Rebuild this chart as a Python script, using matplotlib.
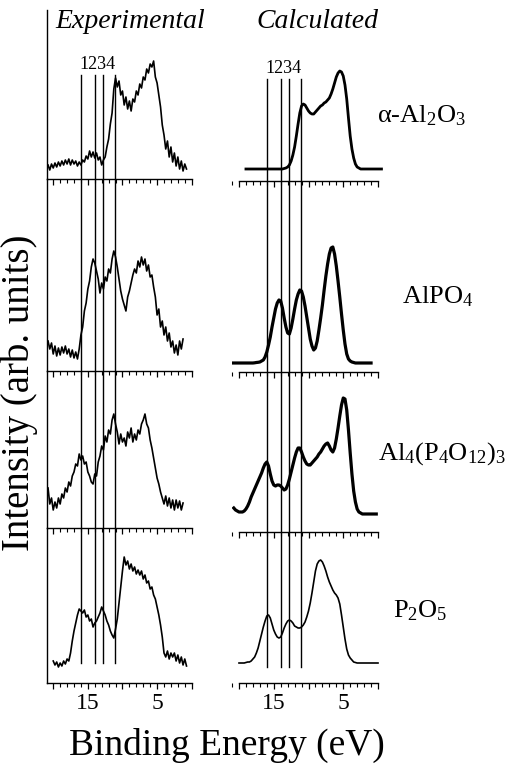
import numpy as np
import matplotlib
matplotlib.use('Agg')
import matplotlib.pyplot as plt
from matplotlib.ticker import MultipleLocator, FixedLocator, FixedFormatter

## plt config
plt.rcParams['font.family'] = ['Liberation Serif', 'DejaVu Serif']
plt.rcParams['mathtext.fontset'] = 'custom'
plt.rcParams['mathtext.rm'] = 'Liberation Serif'
plt.rcParams['mathtext.it'] = 'Liberation Serif:italic'

## data (binding energy in eV, intensity in arb. units)
compounds = ['α-Al$_2$O$_3$', 'AlPO$_4$', 'Al$_4$(P$_4$O$_{12}$)$_3$', 'P$_2$O$_5$']
peak_lines = [16.0, 14.0, 12.8, 11.1]
peak_names = '1234'

e_exp = np.linspace(20.75, 0.75, 81)
exp_al2o3 = [14, 9, 15, 11, 16, 12, 17, 13, 18, 14, 19, 15, 20, 14, 19, 15, 18, 13, 17, 14,
             19, 17, 23, 20, 28, 22, 27, 21, 26, 19, 22, 14, 19, 22, 32, 40, 55, 66, 90, 101,
             92, 98, 84, 88, 74, 82, 70, 78, 68, 80, 77, 88, 84, 95, 91, 102, 99, 110, 106, 115,
             112, 118, 102, 96, 84, 72, 54, 44, 30, 38, 22, 32, 17, 26, 13, 22, 10, 18, 8, 15, 10]
exp_alpo4 = [30, 22, 28, 17, 25, 15, 23, 16, 24, 18, 25, 17, 22, 14, 21, 13, 19, 12, 22, 36,
             44, 60, 68, 82, 90, 104, 112, 108, 100, 92, 78, 88, 82, 94, 90, 102, 98, 112, 120, 114,
             104, 92, 80, 72, 66, 60, 74, 80, 88, 96, 102, 98, 110, 104, 114, 106, 112, 100, 106, 94,
             96, 84, 74, 56, 62, 44, 50, 36, 44, 30, 38, 24, 30, 18, 26, 16, 30, 22, 32, np.nan, np.nan]
exp_alp4o12 = [40, 24, 30, 18, 26, 20, 30, 24, 34, 30, 40, 36, 46, 42, 52, 56, 64, 62, 74, 68,
               72, 64, 66, 56, 52, 46, 44, 54, 52, 66, 72, 82, 78, 92, 86, 98, 94, 108, 114, 104,
               96, 84, 94, 86, 90, 82, 96, 90, 100, 86, 94, 88, 98, 94, 104, 108, 114, 104, 100, 88,
               80, 70, 60, 50, 44, 36, 30, 24, 32, 22, 30, 20, 28, 18, 28, 20, 27, 18, 25, np.nan, np.nan]
exp_p2o5 = [np.nan, np.nan, np.nan, 22, 18, 21, 16, 20, 17, 22, 19, 24, 22, 30, 42, 52, 60, 68, 74, 72,
            70, 73, 66, 68, 62, 64, 56, 60, 62, 66, 70, 76, 72, 68, 62, 58, 52, 48, 45, 54,
            64, 80, 96, 112, 126, 118, 122, 114, 119, 112, 116, 109, 113, 108, 112, 104, 108, 100, 102, 94,
            96, 88, 84, 76, 68, 58, 46, 30, 26, 32, 24, 30, 26, 30, 22, 28, 20, 26, 18, 24, 17]

e_calc = np.linspace(21.0, -0.5, 87)
calc_al2o3 = [np.nan, np.nan, np.nan, np.nan, np.nan, np.nan, np.nan, np.nan, 12, 12,
              12, 12, 12, 12, 12, 12, 12, 12, 12, 12,
              12, 12, 12, 12, 12, 12, 12, 12, 12, 12,
              12.5, 13, 14, 16, 20, 26, 34, 45, 57, 68,
              75, 77, 76, 73, 70, 68, 67, 67, 69, 71,
              73, 75, 76, 78, 79, 81, 83, 87, 92, 98,
              104, 108, 110, 109, 105, 96, 82, 63, 45, 32,
              23, 17, 14, 13, 12, 12, 12, 12, 12, 12,
              12, 12, 12, 12, 12, 12, 12]
calc_alpo4 = [9, 9, 9, 9, 9, 9, 9, 9, 9, 9,
              9, 9, 9, 9.2, 9.5, 9.7, 10,
              11, 12, 15, 20, 27, 35, 45, 54, 63, 69,
              72, 71, 64, 54, 45, 39, 38, 44, 53, 63,
              72, 78, 82, 81, 75, 66, 55, 44, 33, 26,
              22, 24, 31, 42, 54, 67, 82, 96, 108, 118,
              124, 125, 118, 106, 91, 75, 58, 42, 28, 18,
              13, 11, 10, 9.5, 9, 9, 9, 9, 9, 9,
              9, 9, 9, 9, np.nan, np.nan, np.nan, np.nan, np.nan, np.nan]
calc_alp4o12 = [np.nan, 24, 22, 21, 20, 20, 20, 21, 23, 26,
                30, 35, 39, 43, 47, 51, 55, 59, 64, 68,
                70, 66, 58, 51, 47, 46, 47, 47, 46, 44,
                42, 43, 47, 53, 60, 67, 74, 80, 84, 84,
                80, 75, 71, 68, 67, 67, 69, 71, 73, 75,
                78, 80, 83, 86, 88, 89, 86, 82, 80, 84,
                93, 104, 116, 127, 134, 133, 122, 102, 79, 58,
                41, 30, 23, 20, 19, 18, 18, 18, 18, 18,
                18, 18, 18, 18, np.nan, np.nan, np.nan]
calc_p2o5 = [np.nan, np.nan, np.nan, np.nan, 20, 20, 20, 20, 20.5, 21,
             21, 22, 24, 26, 30, 35, 42, 49, 56, 62,
             67, 68, 65, 59, 53, 49, 46, 45, 46, 50,
             55, 59, 62, 63, 62, 60, 57, 56, 55, 55,
             56, 58, 61, 66, 72, 80, 90, 101, 112, 119,
             122, 123, 121, 117, 112, 106, 101, 97, 93, 90,
             88, 85, 79, 68, 56, 44, 34, 28, 25, 23,
             21, 20.5, 20, 20, 20, 20, 20, 20, 20, 20,
             20, 20, 20, 20, 20, np.nan, np.nan]

exp_series = [exp_al2o3, exp_alpo4, exp_alp4o12, exp_p2o5]
calc_series = [calc_al2o3, calc_alpo4, calc_alp4o12, calc_p2o5]
calc_lw = [2.0, 2.3, 2.3, 1.2]

## layout in pixels
W, H = 520, 773
top = 10
left_bottoms = [179, 371, 528, 683]
right_bottoms = [181, 372, 532, 683]
label_pos = [(377, 122), (402, 303), (378, 460), (393, 617)]


def box(x0, y0, x1, y1):
    return [x0 / W, 1 - y1 / H, (x1 - x0) / W, (y1 - y0) / H]


def style_xaxis(ax, show_labels):
    ax.xaxis.set_major_locator(FixedLocator([20, 15, 10, 5, 0]))
    ax.xaxis.set_major_formatter(FixedFormatter(['', '15', '', '5', '']))
    ax.xaxis.set_minor_locator(MultipleLocator(1))
    ax.tick_params(axis='x', which='major', direction='out', length=4.5, width=0.9,
                   labelsize=17, pad=3, labelbottom=show_labels)
    ax.tick_params(axis='x', which='minor', direction='out', length=2.6, width=0.8)
    ax.set_yticks([])
    ax.spines['top'].set_visible(False)
    ax.spines['right'].set_visible(False)
    ax.spines['bottom'].set_linewidth(1.0)


fig = plt.figure(figsize=(W / 100, H / 100), dpi=100)

lx0, lx1 = 47, 191.7
rx0, rx1 = 232.05, 383.56

prev_l, prev_r = top, top
for i in range(4):
    # experimental
    ax = fig.add_axes(box(lx0, prev_l, lx1, left_bottoms[i]))
    ax.plot(e_exp, exp_series[i], color='black', lw=1.2)
    ax.set_xlim(20.9, 0)
    ax.set_ylim(0, left_bottoms[i] - prev_l)
    style_xaxis(ax, i == 3)
    ax.spines['left'].set_linewidth(1.0)
    ax.patch.set_visible(False)

    # calculated
    ax = fig.add_axes(box(rx0, prev_r, rx1, right_bottoms[i]))
    ax.plot(e_calc, calc_series[i], color='black', lw=calc_lw[i], solid_joinstyle='round')
    ax.set_xlim(21, -0.8)
    ax.set_ylim(0, right_bottoms[i] - prev_r)
    style_xaxis(ax, i == 3)
    ax.spines['left'].set_visible(False)
    ax.spines['bottom'].set_bounds(0, 20)
    ax.patch.set_visible(False)

    fig.text(label_pos[i][0] / W, 1 - label_pos[i][1] / H, compounds[i],
             fontsize=19, ha='left', va='baseline')
    prev_l, prev_r = left_bottoms[i], right_bottoms[i]

## reference lines 1-4 across all rows
for (x0, x1, xlim, y_top, y_bot) in [(lx0, lx1, (20.9, 0), 75, 663),
                                     (rx0, rx1, (21, -0.8), 79, 667)]:
    ov = fig.add_axes(box(x0, top, x1, 683))
    ov.set_xlim(*xlim)
    ov.set_ylim(0, 1)
    ov.axis('off')
    ymin = (683 - y_bot) / (683 - top)
    ymax = (683 - y_top) / (683 - top)
    for e in peak_lines:
        ov.axvline(e, ymin=ymin, ymax=ymax, color='black', lw=1.0)
    ov.text(np.mean([peak_lines[0], peak_lines[-1]]), ymax + 0.003, peak_names,
            ha='center', va='bottom', fontsize=13)

fig.text(130 / W, 1 - 28 / H, 'Experimental', fontsize=20, style='italic',
         ha='center', va='baseline')
fig.text(317 / W, 1 - 28 / H, 'Calculated', fontsize=20, style='italic',
         ha='center', va='baseline')
fig.text(227 / W, 1 - 755 / H, 'Binding Energy (eV)', fontsize=27,
         ha='center', va='baseline')
fig.text(19 / W, 1 - 393 / H, 'Intensity (arb. units)', fontsize=28,
         rotation=90, ha='center', va='center')

fig.savefig('out.png', dpi=100)
